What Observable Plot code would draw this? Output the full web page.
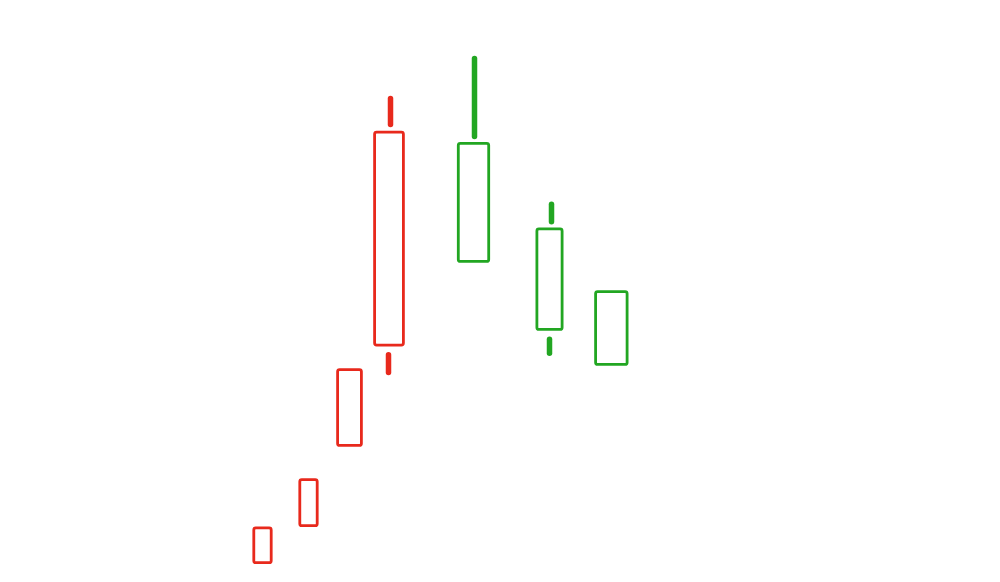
<!DOCTYPE html>
<html>
<head>
<meta charset="utf-8">
<script src="https://cdn.jsdelivr.net/npm/d3@7"></script>
<script src="https://cdn.jsdelivr.net/npm/@observablehq/plot@0.6"></script>
<style>
  html, body { margin: 0; padding: 0; background: #ffffff; }
  #chart svg { display: block; }
</style>
</head>
<body>
<div id="chart"></div>
<script>
// Candle bodies: time span start/end, open, close
const startT = [25.38, 29.98, 33.76, 37.46, 45.83, 53.69, 59.56];
const endT   = [27.12, 31.72, 36.14, 40.34, 48.87, 56.21, 62.71];
const opens  = [1.93, 5.63, 13.66, 23.69, 43.87, 35.31, 29.04];
const closes = [5.41, 10.24, 21.24, 44.99, 32.06, 25.26, 21.76];

// Wick segments: time, from, to
const wickT    = [39.0, 38.8, 47.4, 55.1, 54.9];
const wickFrom = [45.75, 20.95, 44.55, 36.02, 22.88];
const wickTo   = [48.35, 22.72, 52.35, 37.78, 24.28];

const RED = "#e8291c";
const GREEN = "#22a622";

const candles = startT.map((s, i) => ({
  x1: s, x2: endT[i], open: opens[i], close: closes[i],
  up: closes[i] > opens[i]
}));
const wicks = wickT.map((t, i) => ({
  t, from: wickFrom[i], to: wickTo[i], up: t < 42
}));

const chart = Plot.plot({
  width: 1000,
  height: 582,
  margin: 0,
  x: { domain: [0, 100], axis: null },
  y: { domain: [0, 58.2], axis: null },
  marks: [
    Plot.ruleX(wicks, {
      x: "t", y1: "from", y2: "to",
      stroke: d => d.up ? RED : GREEN,
      strokeWidth: 5.5, strokeLinecap: "round"
    }),
    Plot.rect(candles, {
      x1: "x1", x2: "x2", y1: "open", y2: "close",
      fill: "none",
      stroke: d => d.up ? RED : GREEN,
      strokeWidth: 2.8, rx: 2
    })
  ]
});
document.getElementById("chart").appendChild(chart);
</script>
</body>
</html>
